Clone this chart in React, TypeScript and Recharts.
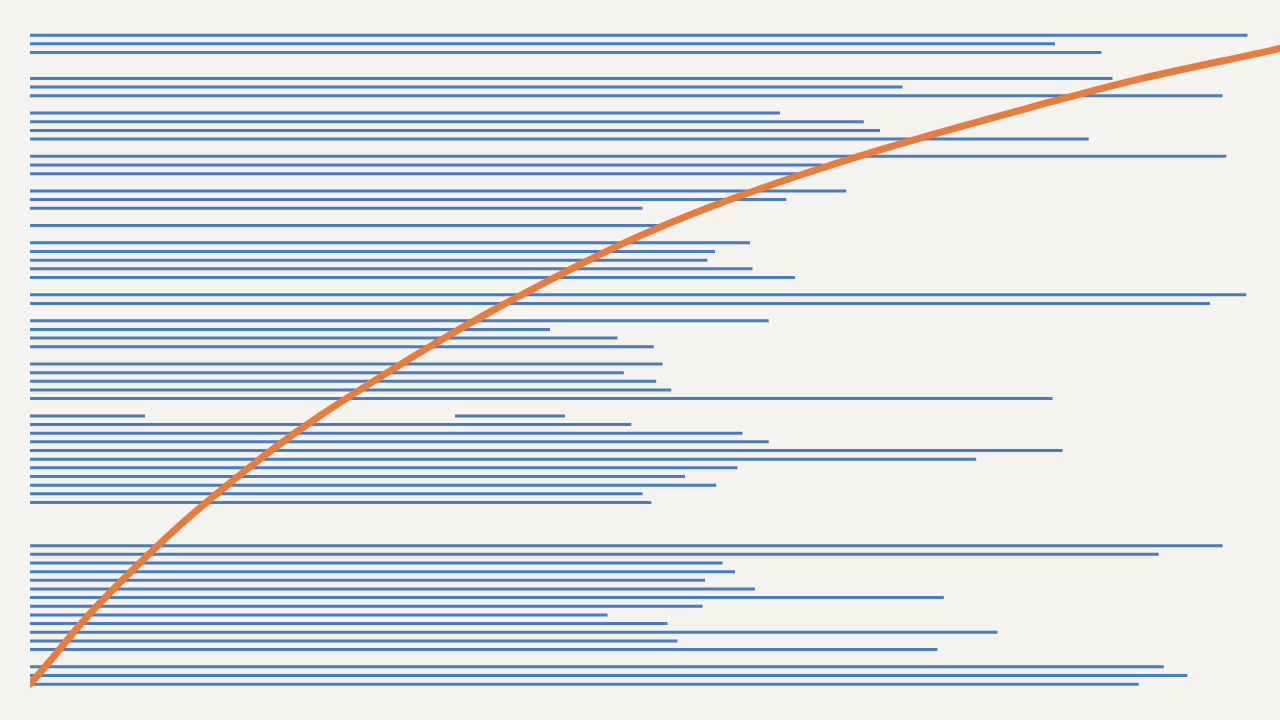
import { Bar, ComposedChart, Line, XAxis, YAxis } from "recharts"

// one entry per row slot, top to bottom; null = empty slot
const barLengths: (number | null)[] = [
  97.4, 82.0, 85.7, null, null, 86.6, 69.8, 95.4, null, 60.0,
  66.7, 68.0, 84.7, null, 95.7, 63.4, 61.4, null, 65.3, 60.5,
  49.0, null, 50.8, null, 57.6, 54.8, 54.2, 57.8, 61.2, null,
  97.3, 94.4, null, 59.1, 41.6, 47.0, 49.9, null, 50.6, 47.5,
  50.1, 51.3, 81.8, null, 9.2, 48.1, 57.0, 59.1, 82.6, 75.7,
  56.6, 52.4, 54.9, 49.0, 49.7, null, null, null, null, 95.4,
  90.3, 55.4, 56.4, 54.0, 58.0, 73.1, 53.8, 46.2, 51.0, 77.4,
  51.8, 72.6, null, 90.7, 92.6, 88.7,
]

// the one broken row: [slot, gap, second piece]
const splitRows: [number, number, number][] = [[44, 24.8, 8.8]]

// cumulative curve read at some slots: [slot, value]
const curvePoints: [number, number][] = [
  [0, 104.4], [2, 98.6], [5, 89.0], [8, 81.0], [12, 71.0], [16, 62.0],
  [20, 54.2], [24, 47.6], [28, 42.0], [32, 36.8], [36, 32.0], [40, 27.5],
  [44, 23.2], [48, 19.3], [52, 15.8], [56, 12.5], [60, 9.5], [64, 6.7],
  [68, 4.1], [72, 1.8], [75, 0],
]

const data = barLengths.map((len, i) => {
  const split = splitRows.find((s) => s[0] === i)
  const curve = curvePoints.find((c) => c[0] === i)
  return {
    row: `R${i + 1}`,
    len,
    gap: split ? split[1] : null,
    tail: split ? split[2] : null,
    cum: curve ? curve[1] : null,
  }
})

export default function App() {
  return (
    <div style={{ position: "absolute", left: 0, top: 0, width: 1280, height: 720, background: "#f4f3ef" }}>
      <ComposedChart
        width={1280}
        height={720}
        data={data}
        layout="vertical"
        margin={{ top: 30.7, right: 0, left: 30, bottom: 31.7 }}
      >
        <XAxis type="number" domain={[0, 100]} allowDataOverflow hide />
        <YAxis type="category" dataKey="row" hide />
        <Bar dataKey="len" stackId="a" fill="#4a7cc2" barSize={3} isAnimationActive={false} />
        <Bar dataKey="gap" stackId="a" fill="transparent" barSize={3} isAnimationActive={false} />
        <Bar dataKey="tail" stackId="a" fill="#4a7cc2" barSize={3} isAnimationActive={false} />
        <Line
          type="natural"
          dataKey="cum"
          stroke="#e97b3c"
          strokeWidth={7}
          strokeLinecap="round"
          dot={false}
          connectNulls
          isAnimationActive={false}
        />
      </ComposedChart>
    </div>
  )
}
